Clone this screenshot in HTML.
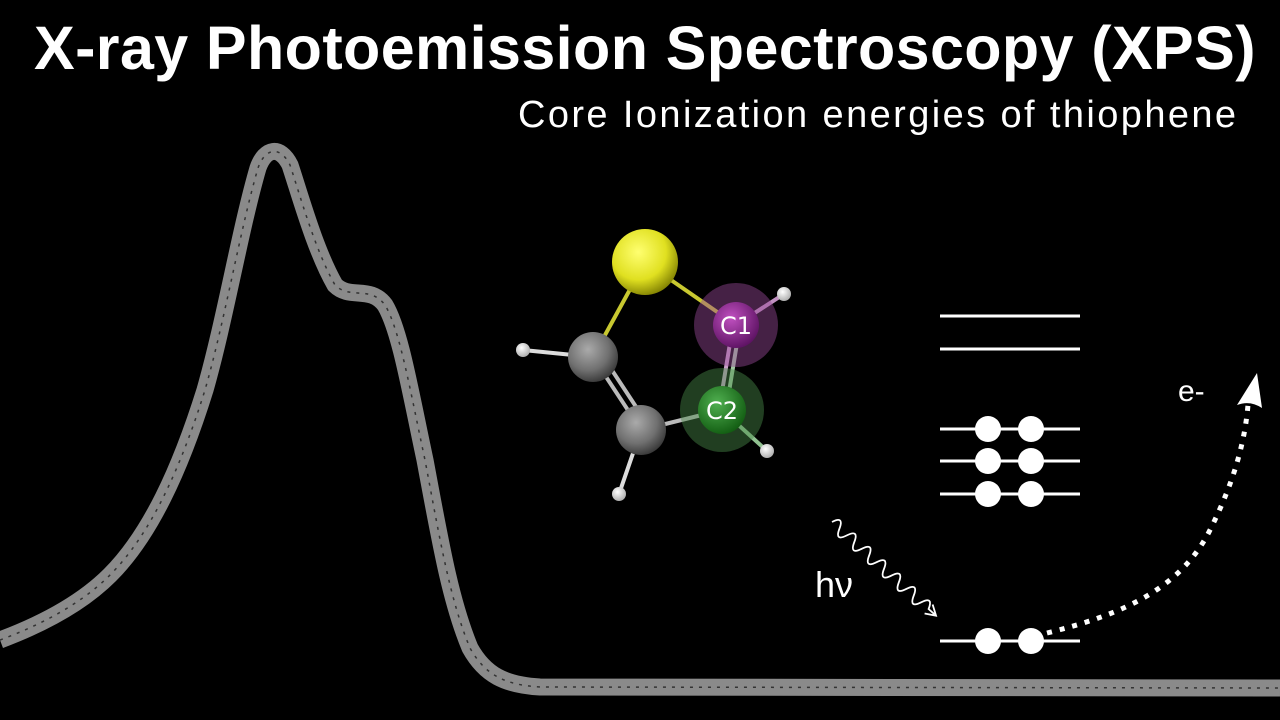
<!DOCTYPE html>
<html><head><meta charset="utf-8"><style>
html,body{margin:0;padding:0;background:#000;}
body{width:1280px;height:720px;overflow:hidden;position:relative;font-family:"Liberation Sans",sans-serif;color:#fff;}
.t{position:absolute;white-space:nowrap;}
</style></head><body>
<svg width="1280" height="720" style="position:absolute;left:0;top:0">
<defs>
<radialGradient id="gy" cx="0.4" cy="0.35" r="0.7"><stop offset="0" stop-color="#ffff70"/><stop offset="0.6" stop-color="#e0e020"/><stop offset="1" stop-color="#7a7a00"/></radialGradient>
<radialGradient id="gg" cx="0.4" cy="0.35" r="0.7"><stop offset="0" stop-color="#aaa"/><stop offset="0.6" stop-color="#707070"/><stop offset="1" stop-color="#333"/></radialGradient>
<radialGradient id="gp" cx="0.4" cy="0.35" r="0.7"><stop offset="0" stop-color="#c050c0"/><stop offset="1" stop-color="#5a1060"/></radialGradient>
<radialGradient id="gn" cx="0.4" cy="0.35" r="0.7"><stop offset="0" stop-color="#50b050"/><stop offset="1" stop-color="#105a10"/></radialGradient>
<radialGradient id="gh" cx="0.4" cy="0.35" r="0.7"><stop offset="0" stop-color="#fff"/><stop offset="1" stop-color="#aaa"/></radialGradient>
</defs>
<!-- spectrum -->
<path d="M0,640 C40,625 80,605 110,575 C150,535 180,470 205,390 C225,320 240,230 258,168 C265,148 280,145 290,165 C300,195 315,250 335,285 C350,300 370,285 385,305 C400,330 410,390 425,460 C440,540 450,600 470,648 C485,675 505,685 540,687 L1280,688" fill="none" stroke="#8a8a8a" stroke-width="17" stroke-linejoin="round"/>
<path d="M0,640 C40,625 80,605 110,575 C150,535 180,470 205,390 C225,320 240,230 258,168 C265,148 280,145 290,165 C300,195 315,250 335,285 C350,300 370,285 385,305 C400,330 410,390 425,460 C440,540 450,600 470,648 C485,675 505,685 540,687 L1280,688" fill="none" stroke="#333" stroke-width="1.5" stroke-dasharray="3 6"/>
<!-- bonds -->
<g stroke-width="4" stroke-linecap="round">
<line x1="645" y1="262" x2="736" y2="325" stroke="#c8c830"/>
<line x1="645" y1="262" x2="593" y2="357" stroke="#c8c830"/>
<line x1="593" y1="357" x2="641" y2="430" stroke="#bbb"/>
<line x1="600" y1="352" x2="648" y2="425" stroke="#bbb"/>
<line x1="641" y1="430" x2="722" y2="410" stroke="#bbb"/>
<line x1="733" y1="325" x2="719" y2="410" stroke="#c8a0c8"/>
<line x1="740" y1="325" x2="726" y2="410" stroke="#a0c8a0"/>
<line x1="593" y1="357" x2="523" y2="350" stroke="#ddd"/>
<line x1="736" y1="325" x2="784" y2="294" stroke="#c090c0"/>
<line x1="722" y1="410" x2="767" y2="451" stroke="#90c090"/>
<line x1="641" y1="430" x2="619" y2="494" stroke="#ddd"/>
</g>
<circle cx="736" cy="325" r="42" fill="#9a4a9a" opacity="0.45"/>
<circle cx="722" cy="410" r="42" fill="#4a8a4a" opacity="0.45"/>
<circle cx="645" cy="262" r="33" fill="url(#gy)"/>
<circle cx="593" cy="357" r="25" fill="url(#gg)"/>
<circle cx="641" cy="430" r="25" fill="url(#gg)"/>
<circle cx="736" cy="325" r="23" fill="url(#gp)"/>
<circle cx="722" cy="410" r="24" fill="url(#gn)"/>
<circle cx="523" cy="350" r="7" fill="url(#gh)"/>
<circle cx="784" cy="294" r="7" fill="url(#gh)"/>
<circle cx="767" cy="451" r="7" fill="url(#gh)"/>
<circle cx="619" cy="494" r="7" fill="url(#gh)"/>
<text x="736" y="334" font-family="DejaVu Sans,sans-serif" font-size="24" fill="#fff" text-anchor="middle">C1</text>
<text x="722" y="419" font-family="DejaVu Sans,sans-serif" font-size="24" fill="#fff" text-anchor="middle">C2</text>
<!-- levels -->
<g stroke="#fff" stroke-width="3">
<line x1="940" y1="316" x2="1080" y2="316"/>
<line x1="940" y1="349" x2="1080" y2="349"/>
<line x1="940" y1="429" x2="1080" y2="429"/>
<line x1="940" y1="461" x2="1080" y2="461"/>
<line x1="940" y1="494" x2="1080" y2="494"/>
<line x1="940" y1="641" x2="1080" y2="641"/>
</g>
<g fill="#fff">
<circle cx="988" cy="429" r="13"/><circle cx="1031" cy="429" r="13"/>
<circle cx="988" cy="461" r="13"/><circle cx="1031" cy="461" r="13"/>
<circle cx="988" cy="494" r="13"/><circle cx="1031" cy="494" r="13"/>
<circle cx="988" cy="641" r="13"/><circle cx="1031" cy="641" r="13"/>
</g>
<!-- wavy -->
<g transform="translate(832,522) rotate(42)">
<path d="M0,0 q5,-13 10,0 t10,0 t10,0 t10,0 t10,0 t10,0 t10,0 t10,0 t10,0 t10,0 t10,0 t10,0 t10,0 l8,0" fill="none" stroke="#fff" stroke-width="1.8"/>
<path d="M130,-6 L140,0 L130,6" fill="none" stroke="#fff" stroke-width="1.8"/>
</g>
<!-- dotted -->
<path d="M1047,633 C1120,615 1180,590 1210,530 C1235,480 1245,440 1248,405" fill="none" stroke="#fff" stroke-width="5" stroke-dasharray="5 8"/>
<path d="M1257,373 L1237,405 Q1250,400 1262,408 Z" fill="#fff"/>
</svg>
<div class="t" style="left:34px;top:13px;font-size:61px;font-weight:bold;letter-spacing:0.4px;">X-ray Photoemission Spectroscopy (XPS)</div>
<div class="t" style="left:518px;top:94px;font-size:38px;letter-spacing:2.4px;">Core Ionization energies of thiophene</div>
<div class="t" style="left:815px;top:564px;font-size:36px;">hν</div>
<div class="t" style="left:1178px;top:375px;font-size:30px;">e-</div>
</body></html>
